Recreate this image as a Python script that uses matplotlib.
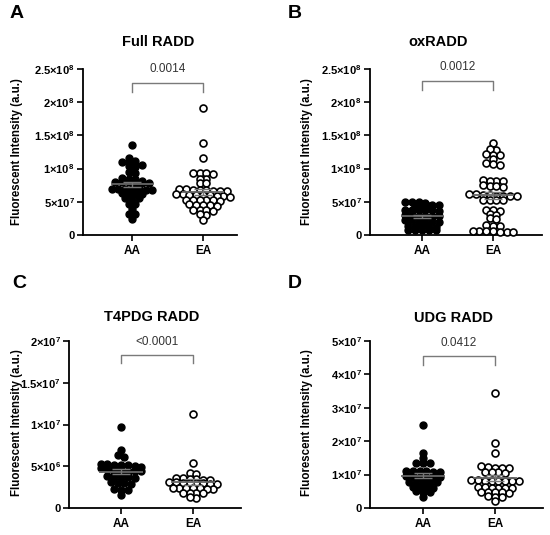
import numpy as np
import matplotlib
matplotlib.use("Agg")
import matplotlib.pyplot as plt

plt.rcParams['font.family'] = ['Liberation Sans', 'DejaVu Sans']
plt.rcParams['mathtext.fontset'] = 'custom'
plt.rcParams['mathtext.rm'] = 'Liberation Sans:bold'
plt.rcParams['mathtext.it'] = 'Liberation Sans:bold'
plt.rcParams['mathtext.bf'] = 'Liberation Sans:bold'

groups = ["AA", "EA"]

# Panel A: Full RADD (units 1e8)
full_aa = [1.36, 1.16, 1.10, 1.09, 1.11, 1.04, 1.05, 1.03, 1.06, 0.94, 0.95, 0.85, 0.86,
           0.84, 0.79, 0.80, 0.78, 0.81, 0.79, 0.80, 0.80, 0.69, 0.70, 0.68, 0.70, 0.69,
           0.69, 0.68, 0.63, 0.63, 0.62, 0.64, 0.55, 0.56, 0.56, 0.47, 0.47, 0.39, 0.32,
           0.31, 0.24]
full_ea = [1.91, 1.39, 1.16, 0.93, 0.94, 0.92, 0.93, 0.84, 0.85, 0.79, 0.78, 0.68, 0.69,
           0.67, 0.68, 0.68, 0.69, 0.67, 0.66, 0.60, 0.61, 0.60, 0.59, 0.60, 0.61, 0.60,
           0.59, 0.57, 0.52, 0.53, 0.52, 0.51, 0.52, 0.53, 0.45, 0.46, 0.45, 0.44, 0.45,
           0.37, 0.38, 0.37, 0.36, 0.30, 0.31, 0.23]
# Panel B: oxRADD (units 1e8)
ox_aa = [0.50, 0.49, 0.48, 0.49, 0.44, 0.45, 0.43, 0.44, 0.45, 0.37, 0.38, 0.36, 0.37,
         0.38, 0.37, 0.29, 0.30, 0.28, 0.29, 0.30, 0.29, 0.21, 0.22, 0.21, 0.20, 0.22,
         0.21, 0.13, 0.14, 0.13, 0.12, 0.13, 0.08, 0.07, 0.08, 0.07, 0.08]
ox_ea = [1.38, 1.28, 1.29, 1.21, 1.22, 1.20, 1.14, 1.08, 1.07, 1.06, 0.82, 0.83, 0.81,
         0.82, 0.74, 0.73, 0.75, 0.74, 0.59, 0.60, 0.58, 0.61, 0.59, 0.60, 0.58, 0.62,
         0.53, 0.52, 0.53, 0.52, 0.37, 0.38, 0.36, 0.31, 0.30, 0.25, 0.24, 0.14, 0.15,
         0.14, 0.06, 0.05, 0.06, 0.05, 0.06, 0.05, 0.06]
# Panel C: T4PDG RADD (units 1e6)
t4_aa = [9.74, 7.0, 6.3, 6.1, 5.2, 5.3, 5.1, 5.2, 5.3, 5.0, 4.8, 4.7, 4.9, 4.4, 4.5, 4.3,
         4.4, 4.4, 4.5, 4.2, 4.0, 3.7, 3.8, 3.7, 3.6, 3.7, 3.0, 3.1, 2.9, 3.0, 2.2, 2.3,
         2.1, 1.56]
t4_ea = [11.3, 5.35, 4.2, 4.1, 3.5, 3.6, 3.4, 3.5, 3.6, 3.4, 3.0, 3.1, 2.9, 3.0, 3.1,
         2.9, 3.0, 3.0, 2.35, 2.4, 2.3, 2.35, 2.4, 2.3, 2.35, 1.8, 1.85, 1.75, 1.8, 1.25,
         1.3]
# Panel D: UDG RADD (units 1e7)
udg_aa = [2.48, 1.66, 1.49, 1.35, 1.36, 1.34, 1.10, 1.12, 1.08, 1.10, 1.11, 1.09, 0.94,
          0.95, 0.93, 0.94, 0.95, 0.94, 0.78, 0.79, 0.77, 0.78, 0.78, 0.62, 0.63, 0.61,
          0.62, 0.49, 0.50, 0.48, 0.32]
udg_ea = [3.45, 1.96, 1.66, 1.20, 1.22, 1.25, 1.21, 1.19, 1.08, 1.07, 1.06, 1.08, 0.82,
          0.83, 0.81, 0.82, 0.83, 0.82, 0.81, 0.82, 0.61, 0.62, 0.60, 0.61, 0.62, 0.61,
          0.47, 0.46, 0.48, 0.47, 0.47, 0.34, 0.35, 0.34, 0.22]

titles = ["Full RADD", "oxRADD", "T4PDG RADD", "UDG RADD"]
letters = ["A", "B", "C", "D"]
pvalues = ["0.0014", "0.0012", "<0.0001", "0.0412"]
scales = [1e8, 1e8, 1e6, 1e7]
yticks_vals = [[0, 0.5e8, 1e8, 1.5e8, 2e8, 2.5e8],
               [0, 0.5e8, 1e8, 1.5e8, 2e8, 2.5e8],
               [0, 5e6, 1e7, 1.5e7, 2e7],
               [0, 1e7, 2e7, 3e7, 4e7, 5e7]]
yticks_labels = [["0", "5×10^7", "1×10^8", "1.5×10^8", "2×10^8", "2.5×10^8"],
                 ["0", "5×10^7", "1×10^8", "1.5×10^8", "2×10^8", "2.5×10^8"],
                 ["0", "5×10^6", "1×10^7", "1.5×10^7", "2×10^7"],
                 ["0", "1×10^7", "2×10^7", "3×10^7", "4×10^7", "5×10^7"]]
bracket_top = [2.29e8, 2.32e8, 1.83e7, 4.55e7]
bracket_tick = [2.15e8, 2.18e8, 1.74e7, 4.28e7]
data = [(full_aa, full_ea), (ox_aa, ox_ea), (t4_aa, t4_ea), (udg_aa, udg_ea)]

W, H = 550, 535
fig = plt.figure(figsize=(5.5, 5.35), dpi=100)

# axes boxes in pixels: left, top, right, bottom
boxes = [(83, 69, 237, 235), (370, 69, 542, 235), (69, 341, 241, 508), (370, 341, 543, 508)]
xpix = [(132, 203), (422, 493), (121, 193), (423, 495)]
title_pos = [(158, 42), (438, 42), (152, 317), (453, 318)]
letter_pos = [(10, 14), (288, 14), (12, 284), (288, 284)]
ylabel_pos = [(17, 152), (307, 152), (17, 423), (307, 423)]


def to_math(s):
    if s == "0":
        return s
    base, exp = s.split("^")
    mant = base.replace("×10", "")
    return r"$\mathregular{" + mant + r"{\times}10^{" + exp + r"}}$"


def row_offsets(vals_px, h, s):
    """GraphPad-like layout: near-equal values share a row, spread sideways."""
    n = len(vals_px)
    xs = np.zeros(n)
    order = list(np.argsort(vals_px)[::-1])
    rows = []
    for i in order:
        if rows and vals_px[rows[-1][0]] - vals_px[i] <= h:
            rows[-1].append(i)
        else:
            rows.append([i])
    for row in rows:
        k = len(row)
        for j, i in enumerate(row):
            xs[i] = (j - (k - 1) / 2) * s
    return xs


for p in range(4):
    l, t, r, b = boxes[p]
    ax = fig.add_axes([l / W, 1 - b / H, (r - l) / W, (b - t) / H])
    ymax = yticks_vals[p][-1]
    x1, x2 = xpix[p]
    ppu = x2 - x1
    xmin = 1 - (x1 - l) / ppu
    xmax = 2 + (r - x2) / ppu
    ax.set_xlim(xmin, xmax)
    ax.set_ylim(0, ymax)
    hpx = b - t
    for g in range(2):
        vals = np.array(data[p][g]) * scales[p]
        ypx = vals / ymax * hpx
        offs = row_offsets(ypx, 3.5, 6.8) / ppu
        xs = (g + 1) + offs
        if g == 0:
            ax.plot(xs, vals, 'o', ms=5, mfc='black', mec='black', mew=1.0,
                    clip_on=False, zorder=3, ls='none')
        else:
            ax.plot(xs, vals, 'o', ms=5, mfc='white', mec='black', mew=1.2,
                    clip_on=False, zorder=3, ls='none')
        m = vals.mean()
        sem = vals.std(ddof=1) / np.sqrt(len(vals))
        ax.hlines(m, g + 1 - 0.30, g + 1 + 0.30, color='#666666', lw=1.3, zorder=4)
        ax.hlines([m - sem, m + sem], g + 1 - 0.13, g + 1 + 0.13, color='#777777', lw=1.0, zorder=4)
        ax.vlines(g + 1, m - sem, m + sem, color='#777777', lw=1.0, zorder=4)
    # significance bracket
    ax.plot([1, 1, 2, 2], [bracket_tick[p], bracket_top[p], bracket_top[p], bracket_tick[p]],
            color='#7a7a7a', lw=1.0, clip_on=False)
    ax.text(1.5, bracket_top[p] + ymax * 0.045, pvalues[p], ha='center', va='bottom',
            fontsize=8.5, color='#333333', clip_on=False)
    ax.set_xticks([1, 2])
    ax.set_xticklabels(groups, fontsize=8.5, fontweight='bold')
    ax.set_yticks(yticks_vals[p])
    ax.set_yticklabels([to_math(s) for s in yticks_labels[p]], fontsize=8, fontweight='bold')
    for s in ['top', 'right']:
        ax.spines[s].set_visible(False)
    for s in ['left', 'bottom']:
        ax.spines[s].set_linewidth(1.3)
    ax.tick_params(axis='both', direction='out', length=4, width=1.2, pad=2)
    ax.tick_params(axis='x', length=4, pad=3)
    ax.set_facecolor('none')

    tx, ty = title_pos[p]
    fig.text(tx / W, 1 - ty / H, titles[p], ha='center', va='center', fontsize=10.5,
             fontweight='bold')
    lx, ly = letter_pos[p]
    fig.text(lx / W, 1 - ly / H, letters[p], ha='left', va='center', fontsize=14,
             fontweight='bold')
    yx, yy = ylabel_pos[p]
    fig.text(yx / W, 1 - yy / H, "Fluorescent Intensity (a.u.)", ha='center', va='center',
             rotation=90, fontsize=8.3, fontweight='bold')

fig.savefig("out.png", dpi=100)
